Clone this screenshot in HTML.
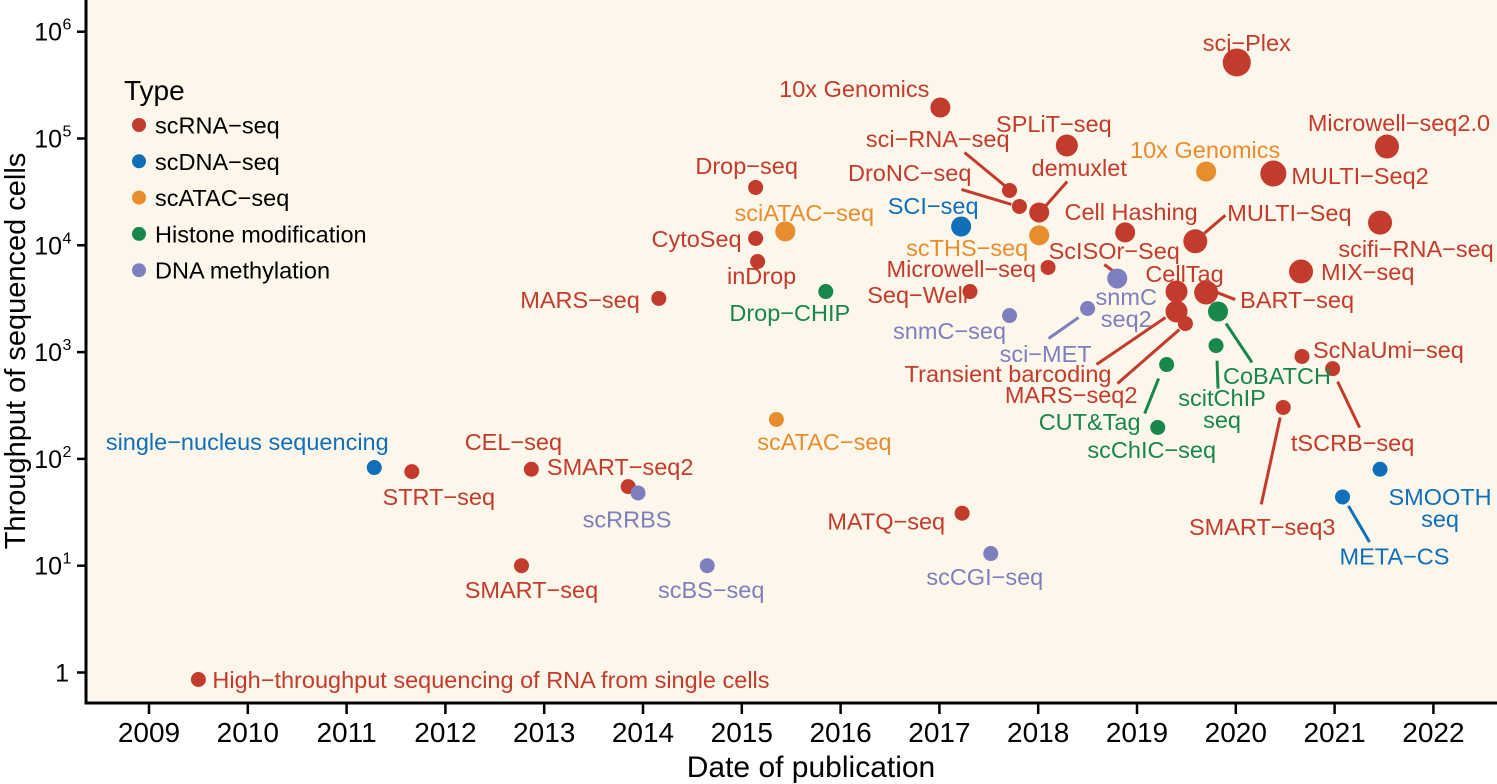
<!DOCTYPE html>
<html><head><meta charset="utf-8">
<style>
html,body{margin:0;padding:0;background:#fff;}
svg{display:block;font-family:"Liberation Sans",Arial,sans-serif;}
</style></head>
<body>
<svg id="chart" width="1497" height="784" viewBox="0 0 1497 784" xmlns="http://www.w3.org/2000/svg">
<rect x="86" y="0" width="1411" height="703" fill="#FDF6EA"/>
<g id="marks"></g>
<g id="axes"></g>
</svg>
<script>
// ---- data ----
const methodNames = ["High\u2212throughput sequencing of RNA from single cells","STRT\u2212seq","CEL\u2212seq","SMART\u2212seq2","SMART\u2212seq","MARS\u2212seq","CytoSeq","Drop\u2212seq","inDrop","10x Genomics","sci\u2212RNA\u2212seq","DroNC\u2212seq","SPLiT\u2212seq","demuxlet","Cell Hashing","Microwell\u2212seq","Seq\u2212Well","MULTI\u2212Seq","ScISOr\u2212Seq","CellTag","Transient barcoding","BART\u2212seq","MARS\u2212seq2","sci\u2212Plex","Microwell\u2212seq2.0","MULTI\u2212Seq2","scifi\u2212RNA\u2212seq","MIX\u2212seq","ScNaUmi\u2212seq","tSCRB\u2212seq","SMART\u2212seq3","MATQ\u2212seq",
"single\u2212nucleus sequencing","SCI\u2212seq","SMOOTH|seq","META\u2212CS",
"sciATAC\u2212seq","10x Genomics","scTHS\u2212seq","scATAC\u2212seq",
"Drop\u2212CHIP","CUT&Tag","scChIC\u2212seq","scitChIP|seq","CoBATCH",
"scRRBS","scBS\u2212seq","scCGI\u2212seq","snmC\u2212seq","snmC|seq2","sci\u2212MET"];
const methodTypes = [0,0,0,0,0,0,0,0,0,0,0,0,0,0,0,0,0,0,0,0,0,0,0,0,0,0,0,0,0,0,0,0,
1,1,1,1, 2,2,2,2, 3,3,3,3,3, 4,4,4,4,4,4];
const pubYears = [2009.50,2011.66,2012.87,2013.85,2012.77,2014.16,2015.14,2015.14,2015.16,2017.01,2017.71,2017.81,2018.29,2018.01,2018.88,2018.10,2017.31,2019.59,2018.80,2019.40,2019.40,2019.70,2019.49,2020.01,2021.53,2020.38,2021.46,2020.66,2020.67,2020.98,2020.48,2017.23,
2011.28,2017.22,2021.46,2021.08,
2015.44,2019.70,2018.01,2015.35,
2015.85,2019.30,2019.21,2019.80,2019.82,
2013.95,2014.65,2017.52,2017.71,2018.80,2018.50];
const cellCounts = [0.86,76,80,55,10,3180,11600,34800,7050,195000,32600,23100,86000,20300,13200,6200,3690,10900,4890,3690,2400,3610,1850,515000,84100,47000,16300,5690,910,700,303,31,
83,15000,80,44,
13500,49100,12400,234,
3690,765,197,1150,2400,
48,10,13,2200,4890,2560];
const typeNames = ["scRNA\u2212seq","scDNA\u2212seq","scATAC\u2212seq","Histone modification","DNA methylation"];
const yearTicks = [2009,2010,2011,2012,2013,2014,2015,2016,2017,2018,2019,2020,2021,2022];
const yTickExps = [0,1,2,3,4,5,6];

// ---- style / layout (not data) ----
const colors = ["#C23B2C","#0F6FB8","#E88D2E","#17874B","#7E7FBE"];
const radii = [7.5,7.5,7.5,7.5,7.5,7.5,7.5,7.5,7.5,10,7.5,7.5,11,10,10,7.5,7.5,12,9,11,11,12,7.5,14,12,13,12,12,7.5,7.5,7.5,7.5,
7.5,10,7.5,7.5, 10,10,10,7.5, 7.5,7.5,7.5,7.5,10, 7.5,7.5,7.5,7.5,10,7.5];
const labelLayout = [
["start",14,0],["middle",27,25],["middle",-18,-28],["middle",-8,-20],["middle",10,24],["end",-19,1],["end",-14,0],["middle",-9,-22],["middle",4,14],["end",-11,-19],
["end",0,-52,[-45,-38,-5,-5]],["end",-48,-34,[-58,-17,-8,-2]],["middle",-13,-22],["middle",40,-45,[28,-31,6,-6]],["middle",6,-21],["end",-12,1],["end",-2,3],["start",32,-29,[30,-26,9,-8]],
["middle",-3,-28,[-13,-14,2,-3]],["middle",8,-18],["end",-65,62,[-80,53,-11,6]],["start",34,7,[11,0,29,7]],["end",-48,71,[-68,60,-6,6]],["middle",10,-20],["middle",12,-24],["start",18,2],["middle",36,26],["start",20,0],["start",11,-7],
["middle",20,74,[5,13,27,59]],["middle",-21,119,[-3,10,-22,97]],["end",-17,8],
["middle",-127,-26],["middle",-28,-21],["middle",60,27],["middle",52,59,[6,9,27,45]],
["middle",19,-19],["middle",-1,-22],["middle",-72,12],["middle",48,22],
["middle",-36,21],["middle",-77,57,[-22,49,-8,14]],["middle",-6,22],["middle",6,52,[1,15,2,43]],["start",5,64,[8,12,34,51]],
["middle",-11,26],["middle",4,24],["middle",-6,23],["middle",-60,15],["middle",9,18],["middle",-42,45,[-39,30,-9,9]]
];
const drawOrder = [18];

const NS="http://www.w3.org/2000/svg";
const X0=149, XS=98.8, Y0=672.5, YS=106.8, BOTTOM=703;
function xScale(yr){return X0+(yr-2009)*XS;}
function yScale(v){return Y0-Math.log10(v)*YS;}
function mk(tag,attrs,parent,text){const e=document.createElementNS(NS,tag);for(const k in attrs)e.setAttribute(k,attrs[k]);if(text!==undefined)e.textContent=text;parent.appendChild(e);return e;}

const marks=document.getElementById('marks');
const axes=document.getElementById('axes');
methodNames.forEach((n,i)=>{
  const L=labelLayout[i]; if(!L[3])return;
  const px=xScale(pubYears[i]), py=yScale(cellCounts[i]);
  const ln=mk('line',{x1:px+L[3][0],y1:py+L[3][1],x2:px+L[3][2],y2:py+L[3][3],stroke:colors[methodTypes[i]],'stroke-width':3},marks);
  
  
});
const order=[...drawOrder, ...methodNames.map((_,i)=>i).filter(i=>!drawOrder.includes(i))];
order.forEach(i=>{
  const c=mk('circle',{cx:xScale(pubYears[i]),cy:yScale(cellCounts[i]),r:radii[i],fill:colors[methodTypes[i]]},marks);
  
  
});
methodNames.forEach((n,i)=>{
  const L=labelLayout[i];
  const px=xScale(pubYears[i]), py=yScale(cellCounts[i]);
  const parts=n.split('|');
  parts.forEach((p,k)=>{
    const t=mk('text',{x:px+L[1],y:py+L[2]+8.5+k*22,'text-anchor':L[0],'font-size':23.5,fill:colors[methodTypes[i]]},marks,p);
    
    
  });
});
const al=mk('path',{d:'M86 0 V'+BOTTOM+' H1497',fill:'none',stroke:'#000','stroke-width':3},axes);


yearTicks.forEach(y=>{
  const x=xScale(y);
  const tk=mk('line',{x1:x,y1:BOTTOM,x2:x,y2:714,stroke:'#000','stroke-width':2.5},axes);
  
  
  const t=mk('text',{x:x,y:742,'text-anchor':'middle','font-size':28,fill:'#000'},axes,String(y));
  
  
});
yTickExps.forEach(e=>{
  const y=yScale(Math.pow(10,e));
  const tk=mk('line',{x1:77,y1:y,x2:86,y2:y,stroke:'#000','stroke-width':2.5},axes);
  
  
  const t=mk('text',{x:e===0?69:62,y:y+9,'text-anchor':'end','font-size':25,fill:'#000'},axes,e===0?'1':'10');
  
  
  if(e>0){
    const s=mk('text',{x:62.5,y:y-2,'text-anchor':'start','font-size':16,fill:'#000'},axes,String(e));
    
    
  }
});
const xt=mk('text',{x:811,y:777,'text-anchor':'middle','font-size':30,fill:'#000'},axes,'Date of publication');


const yt=mk('text',{x:0,y:0,transform:'translate(25,351) rotate(-90)','text-anchor':'middle','font-size':29,fill:'#000'},axes,'Throughput of sequenced cells');


const lg=mk('g',{},axes);


const lt=mk('text',{x:124,y:100,'font-size':28,fill:'#000'},lg,'Type');


typeNames.forEach((n,k)=>{
  const y=125+k*36.3;
  const c=mk('circle',{cx:139,cy:y,r:7,fill:colors[k]},lg);
  
  
  const t=mk('text',{x:155,y:y+8.5,'font-size':23.5,fill:'#000'},lg,n);
  
  
});
</script>
</body></html>
